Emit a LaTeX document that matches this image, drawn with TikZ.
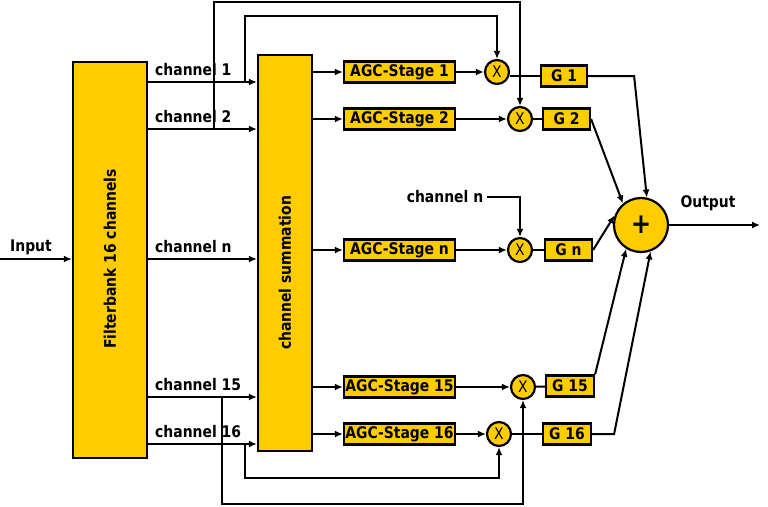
\documentclass[tikz,border=0pt]{standalone}
\usepackage{fontspec}
\setmainfont{DejaVu Sans}[FakeStretch=0.87]
\usetikzlibrary{arrows.meta,calc}
\definecolor{agc}{RGB}{255,204,0}
\begin{document}
\begin{tikzpicture}[x=1pt,y=-1pt,
  every node/.style={font=\fontsize{16}{18}\selectfont\bfseries},
  blk/.style={draw,line width=2.2pt,fill=agc,inner sep=0pt,minimum height=21pt},
  mult/.style={circle,draw,line width=2.2pt,fill=agc,inner sep=0pt,minimum size=24pt,font=\fontsize{16}{18}\selectfont},
  wire/.style={line width=2pt},
  arr/.style={wire,-{Latex[length=8pt,width=7pt]}},
  lbl/.style={inner sep=0pt}
]
\useasboundingbox (0,0) rectangle (768,506);

% main blocks
\node[blk, minimum width=74pt, minimum height=396pt] (fb) at (110,260) {};
\node[lbl, rotate=90] (fbt) at (110,259) {Filterbank 16 channels};
\node[blk, minimum width=54pt, minimum height=396pt] (ss) at (285,253) {};
\node[lbl, rotate=90] (sst) at (285,273) {channel summation};

% AGC stages
\node[blk, minimum width=111pt] (a1) at (399.5,72) {AGC-Stage 1};
\node[blk, minimum width=111pt] (a2) at (399.5,119) {AGC-Stage 2};
\node[blk, minimum width=111pt] (an) at (399.5,250) {AGC-Stage n};
\node[blk, minimum width=111pt] (a15) at (399.5,387) {AGC-Stage 15};
\node[blk, minimum width=111pt] (a16) at (399.5,434) {AGC-Stage 16};

% multipliers
\node[mult] (x1) at (497,72) {X};
\node[mult] (x2) at (520,119) {X};
\node[mult] (xn) at (520,250) {X};
\node[mult] (x15) at (523,387) {X};
\node[mult] (x16) at (499,434) {X};

% gains
\node[blk, minimum width=46pt] (g1) at (564,76) {G 1};
\node[blk, minimum width=47pt] (g2) at (566.5,119) {G 2};
\node[blk, minimum width=47pt] (gn) at (568.5,250) {G n};
\node[blk, minimum width=48pt] (g15) at (570,386) {G 15};
\node[blk, minimum width=48pt] (g16) at (567,434) {G 16};

% sum
\node[circle, draw, line width=2.2pt, fill=agc, minimum size=54pt, inner sep=0pt,
      font=\fontsize{28}{30}\selectfont\bfseries] (p) at (641,225) {+};

% labels
\node[lbl] (inl) at (31,247) {Input};
\node[lbl] (outl) at (708,203) {Output};
\node[lbl, anchor=west] (l1) at (155,70) {channel 1};
\node[lbl, anchor=west] (l2) at (155,117) {channel 2};
\node[lbl, anchor=west] (ln) at (155,247) {channel n};
\node[lbl, anchor=west] (l15) at (155,385) {channel 15};
\node[lbl, anchor=west] (l16) at (155,432) {channel 16};
\node[lbl] (cnr) at (445,197) {channel n};

% coordinates
\coordinate (in) at (0,259);
\coordinate (out) at (760,225);
\coordinate (c1) at (245,82);
\coordinate (c2) at (214,129);
\coordinate (cn) at (147,259);
\coordinate (c15) at (222,397);
\coordinate (c16) at (245,444);

% input
\draw[arr] (in) -- (fb.west |- in);

% channels
\draw[arr] (fb.east |- c1) -- (ss.west |- c1);
\draw[arr] (fb.east |- c2) -- (ss.west |- c2);
\draw[arr] (fb.east |- cn) -- (ss.west |- cn);
\draw[arr] (fb.east |- c15) -- (ss.west |- c15);
\draw[arr] (fb.east |- c16) -- (ss.west |- c16);

% feedback taps
\draw[arr] (c1) -- ++(0,-66) -| (x1.north);
\draw[arr] (c2) -- ++(0,-127) -| (x2.north);
\draw[arr] (c15) -- ++(0,107) -| (x15.south);
\draw[arr] (c16) -- ++(0,34) -| (x16.south);
\draw[arr] ([xshift=4pt]cnr.east) -| (xn.north);

% summation -> AGC
\draw[arr] (ss.east |- a1) -- (a1.west);
\draw[arr] (ss.east |- a2) -- (a2.west);
\draw[arr] (ss.east |- an) -- (an.west);
\draw[arr] (ss.east |- a15) -- (a15.west);
\draw[arr] (ss.east |- a16) -- (a16.west);

% AGC -> X
\draw[arr] (a1) -- (x1);
\draw[arr] (a2) -- (x2);
\draw[arr] (an) -- (xn);
\draw[arr] (a15) -- (x15);
\draw[arr] (a16) -- (x16);

% X -> G
\draw[wire] (x1.east |- g1) -- (g1.west);
\draw[wire] (x2) -- (g2);
\draw[wire] (xn) -- (gn);
\draw[wire] (x15) -- (g15);
\draw[wire] (x16) -- (g16);

% G -> sum
\draw[arr] (g1.east) -- ++(46,0) -- (p.78);
\draw[arr] (g2.east) -- (p.130);
\draw[arr] (gn.east) -- (p.160);
\draw[arr] (g15.north east) -- (p.238);
\draw[arr] (g16.east) -- ++(22,0) -- (p.290);

% output
\draw[arr] (p) -- (out);
\end{tikzpicture}
\end{document}
